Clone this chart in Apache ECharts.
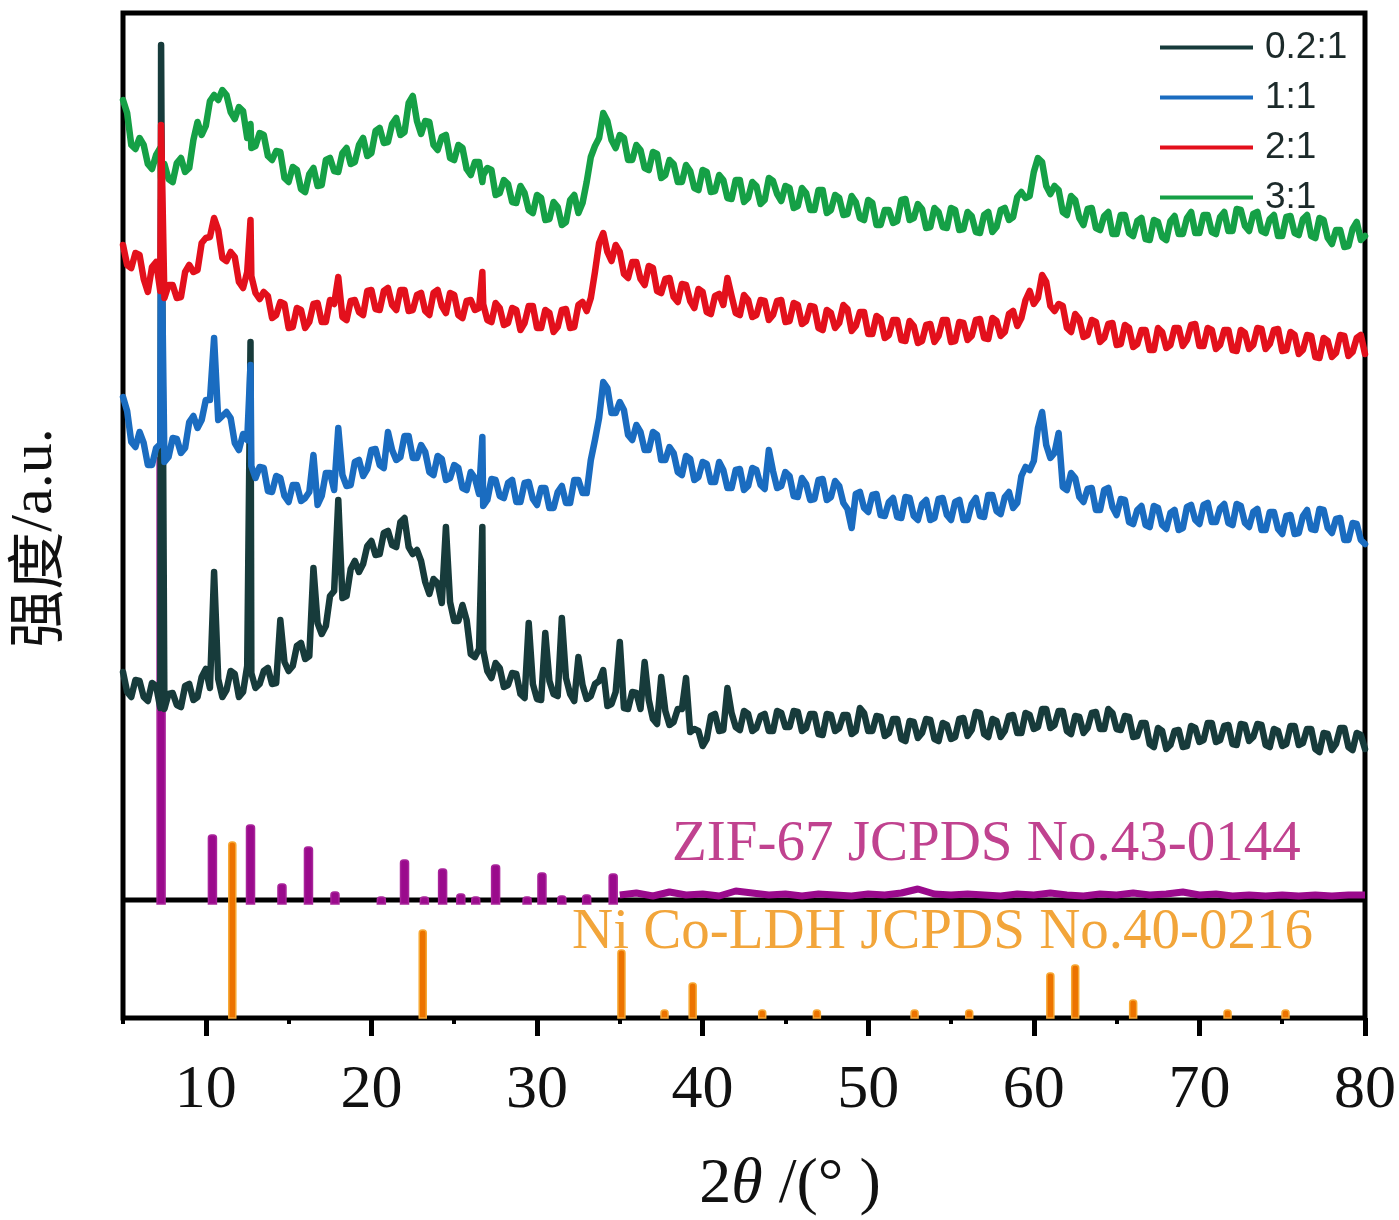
<!DOCTYPE html>
<html><head><meta charset="utf-8">
<script src="https://cdn.jsdelivr.net/npm/echarts@6/dist/echarts.min.js"></script>
<style>html,body{margin:0;padding:0;background:#fff}#c{width:1399px;height:1220px}</style>
</head><body><div id="c"></div>
<script>
// 2θ angles (degrees): main sampling grid shared by the four measured patterns
const twoTheta = [
 5,5.5,6,6.5,7,7.3,7.5,8,8.5,9,
 9.5,10,10.5,11,11.5,12,12.5,12.7,13,13.5,
 14,14.5,15,15.5,16,16.5,17,17.5,18,18.5,
 19,19.5,20,20.5,21,21.5,22,22.5,23,23.5,
 24,24.5,25,25.5,26,26.5,26.7,27,27.5,28,
 28.5,29,29.5,30,30.5,31,31.5,32,32.5,33,
 33.5,34,34.5,35,35.5,36,36.5,37,37.5,38,
 38.5,39,39.5,40,40.5,41,41.5,42,42.5,43,
 43.5,44,44.5,45,45.5,46,46.5,47,47.5,48,
 48.5,49,49.5,50,50.5,51,51.5,52,52.5,53,
 53.5,54,54.5,55,55.5,56,56.5,57,57.5,58,
 58.5,59,59.5,60,60.5,61,61.5,62,62.5,63,
 63.5,64,64.5,65,65.5,66,66.5,67,67.5,68,
 68.5,69,69.5,70,70.5,71,71.5,72,72.5,73,
 73.5,74,74.5,75,75.5,76,76.5,77,77.5,78,
 78.5,79,79.5,80];
// in-between sampling angles
const twoThetaMid = [
 5.25,5.75,6.25,6.75,7.25,7.75,8.25,8.75,9.25,9.75,
 10.25,10.75,11.25,11.75,12.25,12.75,13.25,13.75,14.25,14.75,
 15.25,15.75,16.25,16.75,17.25,17.75,18.25,18.75,19.25,19.75,
 20.25,20.75,21.25,21.75,22.25,22.75,23.25,23.75,24.25,24.75,
 25.25,25.75,26.25,26.75,27.25,27.75,28.25,28.75,29.25,29.75,
 30.25,30.75,31.25,31.75,32.25,32.75,33.25,33.75,34.25,34.75,
 35.25,35.75,36.25,36.75,37.25,37.75,38.25,38.75,39.25,39.75,
 40.25,40.75,41.25,41.75,42.25,42.75,43.25,43.75,44.25,44.75,
 45.25,45.75,46.25,46.75,47.25,47.75,48.25,48.75,49.25,49.75,
 50.25,50.75,51.25,51.75,52.25,52.75,53.25,53.75,54.25,54.75,
 55.25,55.75,56.25,56.75,57.25,57.75,58.25,58.75,59.25,59.75,
 60.25,60.75,61.25,61.75,62.25,62.75,63.25,63.75,64.25,64.75,
 65.25,65.75,66.25,66.75,67.25,67.75,68.25,68.75,69.25,69.75,
 70.25,70.75,71.25,71.75,72.25,72.75,73.25,73.75,74.25,74.75,
 75.25,75.75,76.25,76.75,77.25,77.75,78.25,78.75,79.25,79.75];

// intensities (a.u., offset patterns) on the main grid
const s02 = [
 346,321,337,317,332,973,309,325,311,334,
 321,349,446,321,347,321,352,676,330,347,
 334,398,347,372,359,450,384,422,518,422,
 457,454,477,464,487,471,500,464,457,424,
 435,491,397,413,364,369,491,347,355,331,
 345,324,395,319,385,324,400,324,361,319,
 334,348,314,376,309,325,356,299,341,293,
 309,340,289,272,302,287,330,291,307,287,
 302,287,307,291,307,287,304,284,304,287,
 303,284,310,287,302,282,299,279,297,280,
 299,279,295,279,299,282,306,284,299,281,
 302,285,305,289,309,290,307,287,302,285,
 305,289,309,289,302,281,295,274,290,269,
 287,271,292,276,295,276,292,274,294,277,
 294,273,289,272,292,273,289,269,285,268,
 290,271,285,269];
const s11 = [
 621,576,586,553,570,818,556,580,565,596,
 590,618,680,602,600,568,578,653,540,550,
 526,540,516,533,520,563,522,545,590,532,
 556,542,568,553,586,558,582,560,573,546,
 562,538,553,530,546,524,581,518,538,520,
 538,516,536,513,530,510,532,515,538,525,
 578,636,605,616,583,593,568,586,558,571,
 546,562,538,556,536,556,530,548,528,550,
 533,568,530,546,522,540,518,538,518,537,
 515,490,526,506,524,502,520,500,520,498,
 518,500,520,498,518,498,520,501,523,504,
 526,515,551,557,606,560,585,528,540,516,
 530,508,530,503,518,494,512,491,510,489,
 508,490,513,494,515,496,514,493,512,491,
 509,488,506,484,503,485,508,488,508,485,
 500,478,494,474];
const s21 = [
 773,750,763,726,756,893,720,733,721,753,
 748,780,800,760,766,736,746,798,725,726,
 700,716,690,710,690,714,696,718,741,698,
 718,703,728,708,730,708,728,708,725,703,
 728,705,723,700,718,710,746,698,715,693,
 710,688,712,690,708,686,708,690,713,707,
 746,785,757,766,740,756,733,750,725,740,
 716,733,710,726,704,724,740,705,723,701,
 718,698,717,696,715,694,712,690,708,690,
 713,687,706,684,702,680,698,678,697,675,
 693,676,698,676,696,678,698,680,700,682,
 704,692,718,714,743,712,714,690,704,681,
 698,676,694,673,693,671,688,668,690,670,
 690,672,693,672,690,669,688,668,688,669,
 690,669,688,667,686,664,683,661,680,661,
 683,662,680,664];
const s31 = [
 918,873,880,854,863,840,854,836,860,850,
 896,892,923,928,906,911,880,894,872,883,
 858,866,836,848,826,850,833,860,846,870,
 856,880,865,890,876,900,886,922,884,896,
 868,883,858,870,843,856,836,850,823,838,
 816,832,808,823,798,816,793,818,805,836,
 872,905,878,883,858,873,850,866,840,858,
 836,853,830,848,826,843,820,838,816,836,
 814,840,824,832,810,830,808,828,805,823,
 803,822,800,818,793,808,795,818,798,814,
 790,810,791,810,788,806,786,803,786,808,
 798,821,820,846,856,824,828,803,818,793,
 810,788,806,784,803,782,800,778,796,778,
 802,784,806,785,803,784,806,787,808,787,
 806,785,803,782,802,783,803,780,798,774,
 788,772,796,782];

// intensities on the in-between grid
const s02Mid = [
 326,338,321,335,310,324,313,332,318,341,
 330,339,328,344,326,345,334,350,335,356,
 352,375,362,395,392,427,420,449,446,472,
 463,485,473,496,471,468,436,439,415,416,
 397,398,361,368,340,350,333,344,320,334,
 318,337,322,340,317,333,322,337,312,326,
 310,326,309,318,294,307,296,309,286,287,
 279,304,288,305,288,304,290,304,287,305,
 291,306,290,304,283,303,290,303,287,305,
 287,301,285,299,277,296,285,298,277,293,
 281,300,288,305,281,297,287,303,285,303,
 291,309,293,307,284,301,290,306,289,305,
 288,301,282,295,271,287,273,288,272,290,
 278,295,278,293,273,293,281,293,271,287,
 274,292,275,289,266,284,274,290,268,283];
const s11Mid = [
 607,571,575,553,574,561,579,570,602,598,
 618,598,606,575,584,552,551,527,542,522,
 533,517,526,513,545,528,543,533,558,549,
 569,550,568,561,582,560,566,543,559,540,
 550,528,540,512,539,522,535,516,535,519,
 530,510,526,515,538,525,558,600,630,605,
 608,578,586,568,583,558,565,543,559,541,
 554,536,548,530,549,532,548,529,547,532,
 542,521,534,519,539,521,532,509,524,510,
 523,503,516,501,521,502,514,498,519,503,
 516,498,514,502,523,507,521,510,542,548,
 590,573,565,531,545,521,529,508,528,511,
 519,496,508,493,512,493,505,488,511,498,
 513,496,510,495,514,495,506,488,506,489,
 502,484,502,489,509,490,499,478,495,478];
const s21Mid = [
 753,765,739,751,727,733,720,746,746,775,
 781,788,757,761,730,742,719,722,703,714,
 691,708,696,715,696,714,701,717,706,727,
 709,727,713,728,707,723,707,725,712,725,
 703,717,708,714,696,710,695,708,695,712,
 690,705,691,709,691,716,720,775,766,773,
 744,756,739,752,727,739,721,734,717,729,
 706,722,713,722,703,718,703,717,703,718,
 697,713,697,711,688,705,695,709,692,706,
 684,699,683,698,677,692,677,694,682,698,
 677,695,682,699,679,697,686,707,700,727,
 720,736,707,712,686,699,683,696,680,695,
 674,690,674,688,668,686,673,690,678,694,
 672,688,673,688,667,685,673,689,674,689,
 668,683,668,682,660,677,665,682,666,683];
const s31Mid = [
 905,869,873,849,870,839,855,846,878,883,
 917,918,923,899,907,870,885,862,867,840,
 851,829,844,832,858,847,865,854,873,862,
 887,875,894,883,915,897,897,873,881,860,
 873,849,856,843,848,825,834,815,825,805,
 820,799,811,796,823,815,861,880,897,870,
 880,858,868,848,864,843,854,836,847,828,
 846,827,838,819,838,820,832,818,837,817,
 830,812,825,808,828,808,820,804,816,798,
 815,793,808,797,819,800,809,791,806,790,
 808,789,802,785,806,791,810,801,826,822,
 860,832,832,806,822,800,809,790,802,784,
 803,785,797,779,798,781,797,784,800,785,
 803,786,801,787,809,792,804,787,799,782,
 801,785,799,782,800,780,788,771,789,778];

// Reference patterns
const zifAngles  = [7.3,10.4,12.7,14.6,16.2,17.8,20.6,22.0,23.2,24.3,25.4,26.3,27.5,29.4,30.3,31.5,33.0,34.6];
const zifHeights = [443,65,75,16,53,8,3,40,3,31,6,3,35,3,27,4,5,26];
const zifTailAngles  = [35,36,37,38,39,40,41,42,43,44,45,46,47,48,49,50,51,52,53,54,55,56,57,58,59,60,61,62,63,64,65,66,67,68,69,70,71,72,73,74,75,76,77,78,79,80];
const zifTailHeights = [5,7,4,8,5,6,4,9,7,5,6,4,6,5,4,6,5,7,11,6,5,6,5,4,6,5,7,5,4,6,5,7,5,6,8,5,6,4,5,4,5,4,5,4,5,5];
const ldhAngles  = [11.6,23.1,35.1,37.7,39.4,43.6,46.9,52.8,56.1,61.0,62.5,66.0,71.7,75.2];
const ldhHeights = [176,88,68,8,35,8,8,8,8,45,53,18,8,8];

const majorTicks = [10,20,30,40,50,60,70,80];
const minorTicks = [5,15,25,35,45,55,65,75];
const seriesNames = ['0.2:1','1:1','2:1','3:1'];

// layout / style constants
const X_MIN = 5, X_MAX = 80, Y_MAX = 1005;
const ZIF_LEVEL = 118;   // baseline of ZIF-67 reference pattern
const ZIF_FOOT = 114;

const pairs = (xs, ys) => xs.map((x, i) => [x, ys[i]]);
const merged = (main, mid) => pairs(twoTheta, main).concat(pairs(twoThetaMid, mid)).sort((a, b) => a[0] - b[0]);

function lineSeries(name, main, mid, color) {
  return {
    name, type: 'line', data: merged(main, mid), color,
    showSymbol: false, symbol: 'none', smooth: false,
    lineStyle: { color, width: 6.5, join: 'round', cap: 'round' }, z: 2
  };
}

function stickSeries(name, angles, heights, foot, level, width, fill, stroke) {
  return {
    name, type: 'custom', z: 2,
    data: pairs(angles, heights),
    encode: { x: 0, y: 1 },
    renderItem: (params, api) => {
      const a = api.value(0), h = api.value(1);
      const p0 = api.coord([a, foot]);
      const p1 = api.coord([a, level + h]);
      return {
        type: 'rect',
        shape: { x: p0[0] - width / 2, y: p1[1], width: width, height: p0[1] - p1[1], r: [3, 3, 0, 0] },
        style: { fill, stroke, lineWidth: 1.5 }
      };
    }
  };
}

const chart = echarts.init(document.getElementById('c'));
const option = {
  animation: false,
  backgroundColor: '#fff',
  grid: { left: 123, right: 33, top: 13, bottom: 202, show: true, borderColor: '#000', borderWidth: 5, backgroundColor: 'transparent' },
  xAxis: [
    { type: 'value', min: X_MIN, max: X_MAX,
      axisLine: { show: false }, splitLine: { show: false },
      axisTick: { show: true, customValues: majorTicks, length: 18, lineStyle: { color: '#000', width: 5 } },
      axisLabel: { show: true, customValues: majorTicks, margin: 42, fontFamily: 'Liberation Serif', fontSize: 62, color: '#111' } },
    { type: 'value', min: X_MIN, max: X_MAX, position: 'bottom',
      axisLine: { show: false }, splitLine: { show: false },
      axisTick: { show: true, customValues: minorTicks, length: 6, lineStyle: { color: '#000', width: 4 } },
      axisLabel: { show: false } }
  ],
  yAxis: { type: 'value', min: 0, max: Y_MAX, show: false },
  legend: {
    orient: 'vertical', left: 1155, top: 24, itemWidth: 93, itemHeight: 4, itemGap: 13, icon: 'rect',
    data: seriesNames,
    textStyle: { fontFamily: 'Liberation Sans', fontSize: 37, color: '#1c2a2a', padding: [0, 0, 0, 7] }
  },
  series: [
    lineSeries(seriesNames[0], s02, s02Mid, '#173b3b'),
    lineSeries(seriesNames[3], s31, s31Mid, '#15a046'),
    lineSeries(seriesNames[1], s11, s11Mid, '#1a6cc0'),
    lineSeries(seriesNames[2], s21, s21Mid, '#e3101c'),
    { name: 'sep', type: 'custom', z: 2, data: [[X_MIN, ZIF_LEVEL]],
      renderItem: (params, api) => {
        const a = api.coord([X_MIN, ZIF_LEVEL]), b = api.coord([X_MAX, ZIF_LEVEL]);
        return { type: 'line', shape: { x1: a[0], y1: a[1], x2: b[0], y2: b[1] }, style: { stroke: '#000', lineWidth: 5 } };
      } },
    { name: 'zifTail', type: 'line', z: 2, data: zifTailAngles.map((a, i) => [a, ZIF_LEVEL + zifTailHeights[i]]),
      showSymbol: false, symbol: 'none', lineStyle: { color: '#9a0a8c', width: 7 } },
    stickSeries('ZIF-67', zifAngles, zifHeights, ZIF_FOOT, ZIF_LEVEL, 8, '#9a0a8c', '#a8249a'),
    stickSeries('NiCo-LDH', ldhAngles, ldhHeights, 0, 0, 7, '#ec7300', '#f6a733')
  ],
  graphic: [
    { type: 'text', x: 672, y: 845, z: 10,
      style: { text: 'ZIF-67 JCPDS No.43-0144', font: '57px "Liberation Serif"', fill: '#c0428f', align: 'left', verticalAlign: 'middle' } },
    { type: 'text', x: 572, y: 933, z: 10,
      style: { text: 'Ni Co-LDH JCPDS No.40-0216', font: '57px "Liberation Serif"', fill: '#f2a53a', align: 'left', verticalAlign: 'middle' } },
    { type: 'text', x: 790, y: 1185, z: 10,
      style: { text: '{n|2}{t|θ}{n| /(° )}', align: 'center', verticalAlign: 'middle',
        rich: { n: { fontFamily: 'Liberation Serif', fontSize: 64, fill: '#111' },
                t: { fontFamily: 'Liberation Serif', fontSize: 64, fontStyle: 'italic', fill: '#111' } } } },
    { type: 'text', x: 35, y: 538, rotation: Math.PI / 2, z: 10,
      style: { text: '{c|强度}{l|/a.u.}', align: 'center', verticalAlign: 'middle',
        rich: { c: { fontFamily: 'Noto Sans CJK SC', fontSize: 58, fill: '#111' },
                l: { fontFamily: 'Liberation Serif', fontSize: 60, fill: '#111' } } } }
  ]
};
chart.setOption(option);
</script>
</body></html>
